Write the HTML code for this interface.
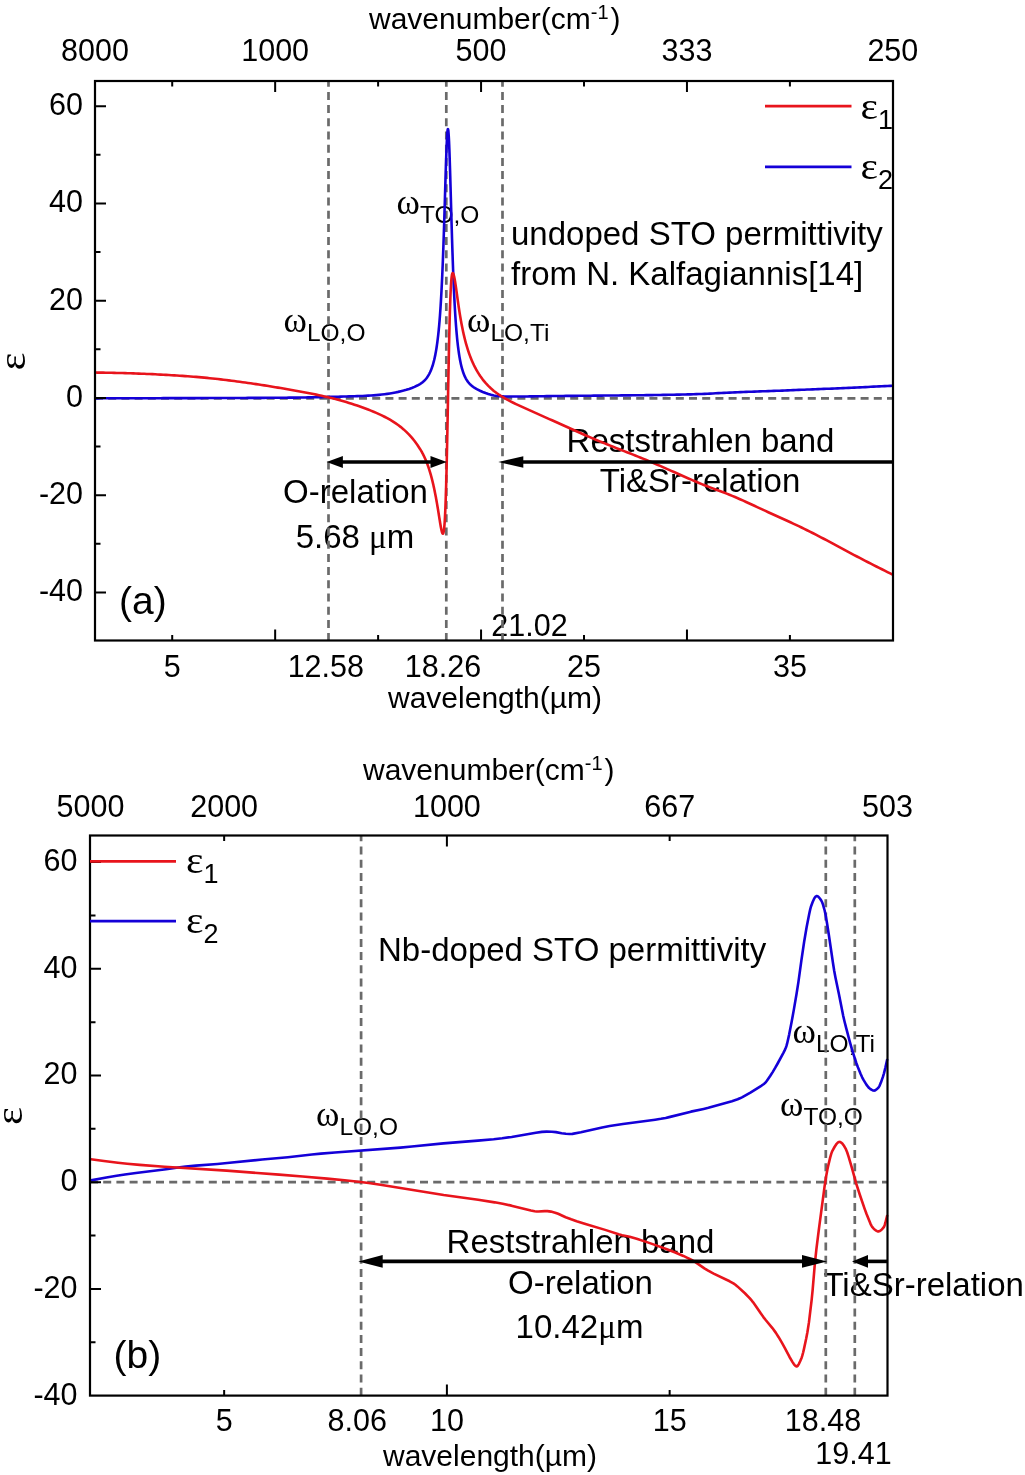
<!DOCTYPE html>
<html><head><meta charset="utf-8"><title>STO permittivity</title>
<style>html,body{margin:0;padding:0;background:#fff;}svg{display:block;}text{fill:#000;}</style>
</head><body>
<svg width="1025" height="1475" viewBox="0 0 1025 1475">
<rect width="1025" height="1475" fill="#fff"/>
<text x="95" y="61.2" font-size="30.5" text-anchor="middle" font-family="'Liberation Sans', sans-serif" >8000</text>
<text x="275.16" y="61.2" font-size="30.5" text-anchor="middle" font-family="'Liberation Sans', sans-serif" >1000</text>
<text x="481.06" y="61.2" font-size="30.5" text-anchor="middle" font-family="'Liberation Sans', sans-serif" >500</text>
<text x="686.96" y="61.2" font-size="30.5" text-anchor="middle" font-family="'Liberation Sans', sans-serif" >333</text>
<text x="892.86" y="61.2" font-size="30.5" text-anchor="middle" font-family="'Liberation Sans', sans-serif" >250</text>
<text x="83" y="115.08" font-size="30.5" text-anchor="end" font-family="'Liberation Sans', sans-serif" >60</text>
<text x="83" y="212.32" font-size="30.5" text-anchor="end" font-family="'Liberation Sans', sans-serif" >40</text>
<text x="83" y="309.56" font-size="30.5" text-anchor="end" font-family="'Liberation Sans', sans-serif" >20</text>
<text x="83" y="406.8" font-size="30.5" text-anchor="end" font-family="'Liberation Sans', sans-serif" >0</text>
<text x="83" y="504.04" font-size="30.5" text-anchor="end" font-family="'Liberation Sans', sans-serif" >-20</text>
<text x="83" y="601.28" font-size="30.5" text-anchor="end" font-family="'Liberation Sans', sans-serif" >-40</text>
<text x="172.21" y="677.3" font-size="30.5" text-anchor="middle" font-family="'Liberation Sans', sans-serif" >5</text>
<text x="325.8" y="677.3" font-size="30.5" text-anchor="middle" font-family="'Liberation Sans', sans-serif" >12.58</text>
<text x="443" y="677.3" font-size="30.5" text-anchor="middle" font-family="'Liberation Sans', sans-serif" >18.26</text>
<text x="584.01" y="677.3" font-size="30.5" text-anchor="middle" font-family="'Liberation Sans', sans-serif" >25</text>
<text x="789.91" y="677.3" font-size="30.5" text-anchor="middle" font-family="'Liberation Sans', sans-serif" >35</text>
<text x="529.5" y="635.8" font-size="30.5" text-anchor="middle" font-family="'Liberation Sans', sans-serif" >21.02</text>
<text x="388" y="708.3" font-size="30" text-anchor="start" font-family="'Liberation Sans', sans-serif" >wavelength(µm)</text>
<text x="369" y="28.9" font-size="30" text-anchor="start" font-family="'Liberation Sans', sans-serif" >wavenumber(cm<tspan font-size="20" dy="-9.5">-1</tspan><tspan dy="9.5" dx="2">)</tspan></text>
<text x="0" y="0" font-size="37" font-family="'Liberation Serif', serif" transform="translate(24.5,370.5) rotate(-90) scale(1.15,1)">ε</text>
<text x="119" y="613.8" font-size="39" text-anchor="start" font-family="'Liberation Sans', sans-serif" >(a)</text>
<text x="511" y="245" font-size="33" text-anchor="start" font-family="'Liberation Sans', sans-serif" >undoped STO permittivity</text>
<text x="511" y="284.5" font-size="33" text-anchor="start" font-family="'Liberation Sans', sans-serif" >from N. Kalfagiannis[14]</text>
<text x="355.5" y="503" font-size="33" text-anchor="middle" font-family="'Liberation Sans', sans-serif" >O-relation</text>
<text x="355" y="547.6" font-size="33" text-anchor="middle" font-family="'Liberation Sans', sans-serif" >5.68 <tspan font-family="'Liberation Serif', serif">μ</tspan>m</text>
<text x="700.5" y="452" font-size="33" text-anchor="middle" font-family="'Liberation Sans', sans-serif" >Reststrahlen band</text>
<text x="700" y="491.5" font-size="33" text-anchor="middle" font-family="'Liberation Sans', sans-serif" >Ti&amp;Sr-relation</text>
<text x="396.5" y="214.2" font-size="35.5" font-family="'Liberation Serif', serif">ω</text>
<text x="419.93" y="223.2" font-size="24.5" text-anchor="start" font-family="'Liberation Sans', sans-serif" >TO,O</text>
<text x="283.5" y="332" font-size="35.5" font-family="'Liberation Serif', serif">ω</text>
<text x="306.93" y="341" font-size="24.5" text-anchor="start" font-family="'Liberation Sans', sans-serif" >LO,O</text>
<text x="467" y="331.5" font-size="35.5" font-family="'Liberation Serif', serif">ω</text>
<text x="490.43" y="340.5" font-size="24.5" text-anchor="start" font-family="'Liberation Sans', sans-serif" >LO,Ti</text>
<g stroke="#6a6a6a" stroke-width="2.7" stroke-dasharray="8 5.2" fill="none">
<path d="M328.5,81V640.5" stroke-dashoffset="2.3"/>
<path d="M446.3,81V640.5" stroke-dashoffset="2.3"/>
<path d="M502.5,81V640.5" stroke-dashoffset="2.3"/>
<path d="M95,398.3H893"/>
</g>
<path d="M95,398.34 L97.73,398.33 L100.46,398.32 L103.19,398.3 L105.92,398.29 L108.66,398.29 L111.39,398.28 L114.12,398.27 L116.85,398.27 L119.58,398.26 L122.31,398.25 L125.04,398.25 L127.77,398.24 L130.5,398.24 L133.24,398.23 L135.97,398.23 L138.7,398.22 L141.43,398.22 L144.16,398.21 L146.89,398.21 L149.62,398.2 L152.35,398.2 L155.08,398.19 L157.82,398.19 L160.55,398.18 L163.28,398.17 L166.01,398.17 L168.74,398.16 L171.47,398.16 L174.2,398.15 L176.93,398.14 L179.66,398.14 L182.39,398.13 L185.13,398.12 L187.86,398.12 L190.59,398.11 L193.32,398.1 L196.05,398.09 L198.78,398.09 L201.51,398.08 L204.24,398.07 L206.97,398.06 L209.71,398.05 L212.44,398.05 L215.17,398.04 L217.9,398.03 L220.63,398.02 L223.36,398.01 L226.09,398 L228.82,397.99 L231.55,397.98 L234.29,397.97 L237.02,397.96 L239.75,397.95 L242.48,397.94 L245.21,397.93 L247.94,397.92 L250.67,397.9 L253.4,397.89 L256.13,397.88 L258.87,397.87 L261.6,397.85 L264.33,397.84 L267.06,397.82 L269.79,397.81 L272.52,397.79 L275.25,397.78 L277.98,397.76 L280.71,397.74 L283.45,397.72 L286.18,397.7 L288.91,397.67 L291.64,397.65 L294.37,397.62 L297.1,397.58 L299.83,397.55 L302.56,397.51 L305.29,397.46 L308.03,397.41 L310.76,397.36 L313.49,397.31 L316.22,397.25 L318.95,397.19 L321.68,397.12 L324.41,397.06 L327.14,396.99 L329.87,396.92 L332.61,396.85 L335.34,396.78 L338.07,396.7 L340.8,396.63 L343.53,396.55 L346.26,396.47 L348.99,396.39 L351.72,396.31 L354.45,396.22 L357.18,396.13 L359.92,396.03 L362.65,395.93 L365.38,395.81 L368.11,395.67 L370.84,395.51 L373.57,395.33 L376.3,395.11 L379.03,394.86 L381.76,394.57 L384.5,394.24 L387.23,393.86 L389.96,393.44 L392.69,392.97 L395.42,392.44 L398.15,391.87 L400.88,391.23 L403.61,390.54 L406.34,389.77 L409.08,388.91 L411.81,387.95 L414.54,386.84 L417.27,385.55 L420,384.03 L420.15,383.94 L420.3,383.84 L420.45,383.75 L420.6,383.65 L420.75,383.55 L420.9,383.45 L421.05,383.35 L421.2,383.24 L421.35,383.14 L421.5,383.03 L421.65,382.93 L421.8,382.82 L421.95,382.7 L422.11,382.59 L422.26,382.48 L422.41,382.36 L422.56,382.24 L422.71,382.12 L422.86,382 L423.01,381.87 L423.16,381.74 L423.31,381.61 L423.46,381.48 L423.61,381.35 L423.76,381.21 L423.91,381.07 L424.06,380.93 L424.21,380.79 L424.36,380.64 L424.51,380.49 L424.66,380.34 L424.81,380.18 L424.96,380.02 L425.11,379.86 L425.26,379.7 L425.41,379.53 L425.56,379.36 L425.71,379.18 L425.86,379.01 L426.02,378.82 L426.17,378.64 L426.32,378.45 L426.47,378.26 L426.62,378.06 L426.77,377.86 L426.92,377.66 L427.07,377.45 L427.22,377.23 L427.37,377.02 L427.52,376.8 L427.67,376.57 L427.82,376.34 L427.97,376.1 L428.12,375.86 L428.27,375.61 L428.42,375.36 L428.57,375.11 L428.72,374.85 L428.87,374.58 L429.02,374.3 L429.17,374.03 L429.32,373.74 L429.47,373.45 L429.62,373.15 L429.77,372.85 L429.92,372.54 L430.08,372.22 L430.23,371.89 L430.38,371.56 L430.53,371.22 L430.68,370.87 L430.83,370.52 L430.98,370.16 L431.13,369.78 L431.28,369.4 L431.43,369.02 L431.58,368.62 L431.73,368.21 L431.88,367.79 L432.03,367.36 L432.18,366.93 L432.33,366.48 L432.48,366.02 L432.63,365.55 L432.78,365.07 L432.93,364.57 L433.08,364.06 L433.23,363.54 L433.38,363.01 L433.53,362.46 L433.68,361.9 L433.83,361.32 L433.98,360.73 L434.14,360.13 L434.29,359.5 L434.44,358.86 L434.59,358.2 L434.74,357.53 L434.89,356.83 L435.04,356.12 L435.19,355.38 L435.34,354.63 L435.49,353.85 L435.64,353.05 L435.79,352.23 L435.94,351.38 L436.09,350.51 L436.24,349.61 L436.39,348.68 L436.54,347.73 L436.69,346.75 L436.84,345.74 L436.99,344.69 L437.14,343.62 L437.29,342.51 L437.44,341.36 L437.59,340.18 L437.74,338.96 L437.89,337.7 L438.05,336.41 L438.2,335.06 L438.35,333.68 L438.5,332.25 L438.65,330.77 L438.8,329.24 L438.95,327.66 L439.1,326.03 L439.25,324.34 L439.4,322.6 L439.55,320.79 L439.7,318.92 L439.85,316.99 L440,314.99 L440.15,312.92 L440.3,310.78 L440.45,308.57 L440.6,306.27 L440.75,303.9 L440.9,301.44 L441.05,298.9 L441.2,296.27 L441.35,293.55 L441.5,290.73 L441.65,287.81 L441.8,284.8 L441.95,281.68 L442.11,278.46 L442.26,275.13 L442.41,271.69 L442.56,268.14 L442.71,264.48 L442.86,260.71 L443.01,256.82 L443.16,252.81 L443.31,248.69 L443.46,244.46 L443.61,240.12 L443.76,235.68 L443.91,231.13 L444.06,226.48 L444.21,221.74 L444.36,216.92 L444.51,212.03 L444.66,207.08 L444.81,202.08 L444.96,197.05 L445.11,192.01 L445.26,186.97 L445.41,181.97 L445.56,177.01 L445.71,172.13 L445.86,167.36 L446.02,162.73 L446.17,158.26 L446.32,153.99 L446.47,149.95 L446.62,146.18 L446.77,142.71 L446.92,139.57 L447.07,136.79 L447.22,134.39 L447.37,132.42 L447.52,130.88 L447.67,129.8 L447.82,129.18 L447.97,129.05 L448.12,129.39 L448.27,130.21 L448.42,131.51 L448.57,133.27 L448.72,135.48 L448.87,138.1 L449.02,141.13 L449.17,144.53 L449.32,148.27 L449.47,152.32 L449.62,156.64 L449.77,161.21 L449.92,165.98 L450.08,170.93 L450.23,176.01 L450.38,181.2 L450.53,186.47 L450.68,191.79 L450.83,197.14 L450.98,202.49 L451.13,207.82 L451.28,213.1 L451.43,218.34 L451.58,223.5 L451.73,228.58 L451.88,233.56 L452.03,238.45 L452.18,243.22 L452.33,247.88 L452.48,252.42 L452.63,256.83 L452.78,261.12 L452.93,265.29 L453.08,269.32 L453.23,273.24 L453.38,277.02 L453.53,280.68 L453.68,284.22 L453.83,287.64 L453.98,290.94 L454.14,294.13 L454.29,297.2 L454.44,300.17 L454.59,303.03 L454.74,305.79 L454.89,308.45 L455.04,311.01 L455.19,313.49 L455.34,315.87 L455.49,318.17 L455.64,320.38 L455.79,322.51 L455.94,324.57 L456.09,326.56 L456.24,328.47 L456.39,330.31 L456.54,332.09 L456.69,333.81 L456.84,335.46 L456.99,337.06 L457.14,338.6 L457.29,340.09 L457.44,341.53 L457.59,342.91 L457.74,344.25 L457.89,345.55 L458.05,346.8 L458.2,348.01 L458.35,349.17 L458.5,350.3 L458.65,351.39 L458.8,352.45 L458.95,353.47 L459.1,354.46 L459.25,355.42 L459.4,356.34 L459.55,357.24 L459.7,358.11 L459.85,358.95 L460,359.76 L460.15,360.55 L460.3,361.32 L460.45,362.06 L460.6,362.78 L460.75,363.48 L460.9,364.16 L461.05,364.82 L461.2,365.46 L461.35,366.08 L461.5,366.68 L461.65,367.26 L461.8,367.83 L461.95,368.38 L462.11,368.92 L462.26,369.44 L462.41,369.95 L462.56,370.44 L462.71,370.92 L462.86,371.38 L463.01,371.84 L463.16,372.28 L463.31,372.71 L463.46,373.13 L463.61,373.54 L463.76,373.93 L463.91,374.32 L464.06,374.7 L464.21,375.06 L464.36,375.42 L464.51,375.77 L464.66,376.11 L464.81,376.44 L464.96,376.76 L465.11,377.08 L465.26,377.39 L465.41,377.69 L465.56,377.98 L465.71,378.26 L465.86,378.54 L466.02,378.82 L466.17,379.08 L466.32,379.34 L466.47,379.59 L466.62,379.84 L466.77,380.08 L466.92,380.32 L467.07,380.55 L467.22,380.78 L467.37,381 L467.52,381.22 L467.67,381.43 L467.82,381.63 L467.97,381.84 L468.12,382.03 L468.27,382.23 L468.42,382.42 L468.57,382.6 L468.72,382.78 L468.87,382.96 L469.02,383.13 L469.17,383.3 L469.32,383.47 L469.47,383.63 L469.62,383.79 L469.77,383.95 L469.92,384.1 L470.08,384.25 L470.23,384.4 L470.38,384.55 L470.53,384.69 L470.68,384.83 L470.83,384.97 L470.98,385.1 L471.13,385.24 L471.28,385.37 L471.43,385.5 L471.58,385.62 L471.73,385.75 L471.88,385.87 L472.03,385.99 L472.18,386.11 L472.33,386.23 L472.48,386.34 L472.63,386.46 L472.78,386.57 L472.93,386.68 L473.08,386.79 L473.23,386.9 L473.38,387 L473.53,387.11 L473.68,387.21 L473.83,387.31 L473.98,387.41 L474.14,387.51 L474.29,387.61 L474.44,387.71 L474.59,387.81 L474.74,387.9 L474.89,388 L475.04,388.09 L475.19,388.18 L475.34,388.27 L475.49,388.36 L475.64,388.45 L475.79,388.54 L475.94,388.63 L476.09,388.71 L476.24,388.8 L476.39,388.88 L476.54,388.97 L476.69,389.05 L476.84,389.13 L476.99,389.22 L477.14,389.3 L477.29,389.38 L477.44,389.46 L477.59,389.54 L477.74,389.62 L477.89,389.69 L478.05,389.77 L478.2,389.85 L478.35,389.93 L478.5,390 L478.65,390.08 L478.8,390.15 L478.95,390.22 L479.1,390.3 L479.25,390.37 L479.4,390.44 L479.55,390.52 L479.7,390.59 L479.85,390.66 L480,390.73 L482.77,391.96 L485.54,393.06 L488.32,394.04 L491.09,394.86 L493.86,395.51 L496.63,395.97 L499.4,396.23 L502.17,396.35 L504.95,396.43 L507.72,396.48 L510.49,396.51 L513.26,396.52 L516.03,396.52 L518.81,396.51 L521.58,396.49 L524.35,396.47 L527.12,396.43 L529.89,396.4 L532.66,396.36 L535.44,396.31 L538.21,396.27 L540.98,396.23 L543.75,396.18 L546.52,396.14 L549.3,396.1 L552.07,396.06 L554.84,396.03 L557.61,396 L560.38,395.97 L563.15,395.94 L565.93,395.92 L568.7,395.89 L571.47,395.87 L574.24,395.85 L577.01,395.82 L579.79,395.8 L582.56,395.77 L585.33,395.75 L588.1,395.72 L590.87,395.7 L593.64,395.67 L596.42,395.64 L599.19,395.62 L601.96,395.59 L604.73,395.57 L607.5,395.54 L610.28,395.51 L613.05,395.49 L615.82,395.46 L618.59,395.43 L621.36,395.41 L624.13,395.38 L626.91,395.35 L629.68,395.33 L632.45,395.3 L635.22,395.27 L637.99,395.24 L640.77,395.21 L643.54,395.18 L646.31,395.15 L649.08,395.11 L651.85,395.08 L654.62,395.04 L657.4,395 L660.17,394.96 L662.94,394.92 L665.71,394.87 L668.48,394.82 L671.26,394.77 L674.03,394.72 L676.8,394.67 L679.57,394.61 L682.34,394.55 L685.11,394.48 L687.89,394.41 L690.66,394.34 L693.43,394.26 L696.2,394.17 L698.97,394.07 L701.74,393.96 L704.52,393.84 L707.29,393.71 L710.06,393.58 L712.83,393.44 L715.6,393.3 L718.38,393.15 L721.15,393.01 L723.92,392.87 L726.69,392.73 L729.46,392.6 L732.23,392.47 L735.01,392.35 L737.78,392.23 L740.55,392.12 L743.32,392.01 L746.09,391.91 L748.87,391.81 L751.64,391.71 L754.41,391.62 L757.18,391.52 L759.95,391.42 L762.72,391.32 L765.5,391.22 L768.27,391.12 L771.04,391.02 L773.81,390.91 L776.58,390.8 L779.36,390.7 L782.13,390.59 L784.9,390.48 L787.67,390.36 L790.44,390.25 L793.21,390.14 L795.99,390.02 L798.76,389.91 L801.53,389.8 L804.3,389.68 L807.07,389.57 L809.85,389.46 L812.62,389.34 L815.39,389.23 L818.16,389.12 L820.93,389.01 L823.7,388.9 L826.48,388.8 L829.25,388.69 L832.02,388.58 L834.79,388.47 L837.56,388.36 L840.34,388.24 L843.11,388.13 L845.88,388.01 L848.65,387.89 L851.42,387.77 L854.19,387.64 L856.97,387.51 L859.74,387.37 L862.51,387.24 L865.28,387.1 L868.05,386.95 L870.83,386.81 L873.6,386.67 L876.37,386.52 L879.14,386.38 L881.91,386.24 L884.68,386.1 L887.46,385.97 L890.23,385.84 L893,385.72" fill="none" stroke="#1400d8" stroke-width="2.6" stroke-linejoin="round"/>
<path d="M95,372.55 L97.73,372.58 L100.46,372.62 L103.19,372.67 L105.92,372.71 L108.66,372.76 L111.39,372.81 L114.12,372.87 L116.85,372.93 L119.58,373 L122.31,373.07 L125.04,373.14 L127.77,373.22 L130.5,373.31 L133.24,373.4 L135.97,373.49 L138.7,373.6 L141.43,373.7 L144.16,373.81 L146.89,373.93 L149.62,374.05 L152.35,374.17 L155.08,374.3 L157.82,374.44 L160.55,374.58 L163.28,374.72 L166.01,374.87 L168.74,375.03 L171.47,375.19 L174.2,375.36 L176.93,375.53 L179.66,375.71 L182.39,375.89 L185.13,376.08 L187.86,376.28 L190.59,376.48 L193.32,376.69 L196.05,376.91 L198.78,377.14 L201.51,377.38 L204.24,377.63 L206.97,377.9 L209.71,378.17 L212.44,378.45 L215.17,378.75 L217.9,379.05 L220.63,379.37 L223.36,379.69 L226.09,380.03 L228.82,380.37 L231.55,380.72 L234.29,381.07 L237.02,381.43 L239.75,381.8 L242.48,382.18 L245.21,382.56 L247.94,382.94 L250.67,383.33 L253.4,383.73 L256.13,384.14 L258.87,384.55 L261.6,384.97 L264.33,385.39 L267.06,385.82 L269.79,386.26 L272.52,386.71 L275.25,387.16 L277.98,387.62 L280.71,388.09 L283.45,388.56 L286.18,389.03 L288.91,389.51 L291.64,390 L294.37,390.49 L297.1,390.98 L299.83,391.48 L302.56,391.98 L305.29,392.49 L308.03,393.01 L310.76,393.54 L313.49,394.08 L316.22,394.63 L318.95,395.2 L321.68,395.79 L324.41,396.4 L327.14,397.02 L329.87,397.67 L332.61,398.34 L335.34,399.04 L338.07,399.76 L340.8,400.5 L343.53,401.28 L346.26,402.08 L348.99,402.91 L351.72,403.76 L354.45,404.65 L357.18,405.57 L359.92,406.51 L362.65,407.49 L365.38,408.5 L368.11,409.54 L370.84,410.61 L373.57,411.73 L376.3,412.89 L379.03,414.11 L381.76,415.39 L384.5,416.74 L387.23,418.17 L389.96,419.7 L392.69,421.35 L395.42,423.12 L398.15,425.03 L400.88,427.12 L403.61,429.38 L406.34,431.87 L409.08,434.6 L411.81,437.63 L414.54,441.01 L417.27,444.77 L420,448.92 L420.15,449.17 L420.3,449.41 L420.45,449.66 L420.6,449.91 L420.75,450.16 L420.9,450.42 L421.05,450.67 L421.2,450.93 L421.35,451.19 L421.5,451.46 L421.65,451.72 L421.8,451.99 L421.95,452.26 L422.11,452.53 L422.26,452.81 L422.41,453.08 L422.56,453.37 L422.71,453.65 L422.86,453.93 L423.01,454.22 L423.16,454.52 L423.31,454.81 L423.46,455.11 L423.61,455.41 L423.76,455.71 L423.91,456.02 L424.06,456.33 L424.21,456.64 L424.36,456.96 L424.51,457.28 L424.66,457.61 L424.81,457.94 L424.96,458.27 L425.11,458.6 L425.26,458.94 L425.41,459.29 L425.56,459.63 L425.71,459.99 L425.86,460.34 L426.02,460.7 L426.17,461.07 L426.32,461.43 L426.47,461.81 L426.62,462.18 L426.77,462.57 L426.92,462.95 L427.07,463.34 L427.22,463.74 L427.37,464.14 L427.52,464.55 L427.67,464.96 L427.82,465.38 L427.97,465.8 L428.12,466.22 L428.27,466.66 L428.42,467.09 L428.57,467.54 L428.72,467.99 L428.87,468.44 L429.02,468.9 L429.17,469.37 L429.32,469.84 L429.47,470.32 L429.62,470.8 L429.77,471.29 L429.92,471.79 L430.08,472.29 L430.23,472.8 L430.38,473.32 L430.53,473.84 L430.68,474.37 L430.83,474.9 L430.98,475.45 L431.13,475.99 L431.28,476.55 L431.43,477.11 L431.58,477.68 L431.73,478.25 L431.88,478.83 L432.03,479.42 L432.18,480.02 L432.33,480.62 L432.48,481.24 L432.63,481.86 L432.78,482.48 L432.93,483.12 L433.08,483.76 L433.23,484.41 L433.38,485.07 L433.53,485.74 L433.68,486.41 L433.83,487.1 L433.98,487.79 L434.14,488.49 L434.29,489.2 L434.44,489.92 L434.59,490.64 L434.74,491.38 L434.89,492.13 L435.04,492.88 L435.19,493.64 L435.34,494.41 L435.49,495.2 L435.64,495.99 L435.79,496.79 L435.94,497.59 L436.09,498.41 L436.24,499.24 L436.39,500.07 L436.54,500.92 L436.69,501.77 L436.84,502.63 L436.99,503.5 L437.14,504.38 L437.29,505.27 L437.44,506.16 L437.59,507.07 L437.74,507.97 L437.89,508.89 L438.05,509.81 L438.2,510.74 L438.35,511.67 L438.5,512.61 L438.65,513.55 L438.8,514.49 L438.95,515.44 L439.1,516.38 L439.25,517.33 L439.4,518.27 L439.55,519.21 L439.7,520.15 L439.85,521.08 L440,522.01 L440.15,522.92 L440.3,523.82 L440.45,524.7 L440.6,525.57 L440.75,526.42 L440.9,527.24 L441.05,528.04 L441.2,528.81 L441.35,529.54 L441.5,530.23 L441.65,530.87 L441.8,531.47 L441.95,532.01 L442.11,532.49 L442.26,532.9 L442.41,533.23 L442.56,533.47 L442.71,533.63 L442.86,533.68 L443.01,533.62 L443.16,533.44 L443.31,533.13 L443.46,532.67 L443.61,532.06 L443.76,531.27 L443.91,530.31 L444.06,529.14 L444.21,527.77 L444.36,526.17 L444.51,524.34 L444.66,522.25 L444.81,519.89 L444.96,517.25 L445.11,514.32 L445.26,511.08 L445.41,507.52 L445.56,503.63 L445.71,499.41 L445.86,494.85 L446.02,489.94 L446.17,484.69 L446.32,479.11 L446.47,473.19 L446.62,466.95 L446.77,460.41 L446.92,453.58 L447.07,446.49 L447.22,439.16 L447.37,431.64 L447.52,423.95 L447.67,416.13 L447.82,408.22 L447.97,400.27 L448.12,392.32 L448.27,384.41 L448.42,376.58 L448.57,368.89 L448.72,361.36 L448.87,354.04 L449.02,346.95 L449.17,340.14 L449.32,333.63 L449.47,327.44 L449.62,321.58 L449.77,316.08 L449.92,310.95 L450.08,306.18 L450.23,301.78 L450.38,297.74 L450.53,294.07 L450.68,290.76 L450.83,287.79 L450.98,285.15 L451.13,282.83 L451.28,280.81 L451.43,279.07 L451.58,277.59 L451.73,276.36 L451.88,275.36 L452.03,274.56 L452.18,273.95 L452.33,273.51 L452.48,273.23 L452.63,273.08 L452.78,273.06 L452.93,273.15 L453.08,273.33 L453.23,273.6 L453.38,273.95 L453.53,274.36 L453.68,274.84 L453.83,275.38 L453.98,275.97 L454.14,276.61 L454.29,277.3 L454.44,278.03 L454.59,278.8 L454.74,279.61 L454.89,280.45 L455.04,281.33 L455.19,282.24 L455.34,283.18 L455.49,284.15 L455.64,285.14 L455.79,286.16 L455.94,287.19 L456.09,288.24 L456.24,289.3 L456.39,290.37 L456.54,291.46 L456.69,292.54 L456.84,293.64 L456.99,294.73 L457.14,295.82 L457.29,296.91 L457.44,298 L457.59,299.08 L457.74,300.16 L457.89,301.23 L458.05,302.29 L458.2,303.34 L458.35,304.38 L458.5,305.42 L458.65,306.44 L458.8,307.45 L458.95,308.45 L459.1,309.44 L459.25,310.42 L459.4,311.39 L459.55,312.34 L459.7,313.29 L459.85,314.22 L460,315.14 L460.15,316.05 L460.3,316.95 L460.45,317.83 L460.6,318.71 L460.75,319.57 L460.9,320.42 L461.05,321.26 L461.2,322.09 L461.35,322.91 L461.5,323.72 L461.65,324.52 L461.8,325.3 L461.95,326.08 L462.11,326.84 L462.26,327.6 L462.41,328.34 L462.56,329.08 L462.71,329.81 L462.86,330.52 L463.01,331.23 L463.16,331.93 L463.31,332.61 L463.46,333.29 L463.61,333.96 L463.76,334.62 L463.91,335.28 L464.06,335.92 L464.21,336.56 L464.36,337.18 L464.51,337.8 L464.66,338.42 L464.81,339.02 L464.96,339.62 L465.11,340.2 L465.26,340.79 L465.41,341.36 L465.56,341.93 L465.71,342.49 L465.86,343.04 L466.02,343.59 L466.17,344.13 L466.32,344.66 L466.47,345.18 L466.62,345.7 L466.77,346.22 L466.92,346.73 L467.07,347.23 L467.22,347.72 L467.37,348.21 L467.52,348.7 L467.67,349.17 L467.82,349.65 L467.97,350.11 L468.12,350.58 L468.27,351.03 L468.42,351.49 L468.57,351.93 L468.72,352.37 L468.87,352.81 L469.02,353.24 L469.17,353.67 L469.32,354.09 L469.47,354.51 L469.62,354.92 L469.77,355.33 L469.92,355.73 L470.08,356.13 L470.23,356.53 L470.38,356.92 L470.53,357.31 L470.68,357.69 L470.83,358.07 L470.98,358.45 L471.13,358.82 L471.28,359.19 L471.43,359.55 L471.58,359.92 L471.73,360.27 L471.88,360.63 L472.03,360.98 L472.18,361.32 L472.33,361.67 L472.48,362.01 L472.63,362.35 L472.78,362.68 L472.93,363.01 L473.08,363.34 L473.23,363.66 L473.38,363.99 L473.53,364.31 L473.68,364.62 L473.83,364.93 L473.98,365.24 L474.14,365.55 L474.29,365.86 L474.44,366.16 L474.59,366.46 L474.74,366.75 L474.89,367.05 L475.04,367.34 L475.19,367.63 L475.34,367.92 L475.49,368.2 L475.64,368.48 L475.79,368.76 L475.94,369.04 L476.09,369.31 L476.24,369.58 L476.39,369.85 L476.54,370.12 L476.69,370.39 L476.84,370.65 L476.99,370.91 L477.14,371.17 L477.29,371.43 L477.44,371.68 L477.59,371.94 L477.74,372.19 L477.89,372.44 L478.05,372.68 L478.2,372.93 L478.35,373.17 L478.5,373.41 L478.65,373.65 L478.8,373.89 L478.95,374.12 L479.1,374.36 L479.25,374.59 L479.4,374.82 L479.55,375.05 L479.7,375.28 L479.85,375.5 L480,375.73 L482.77,379.56 L485.54,382.94 L488.32,385.91 L491.09,388.55 L493.86,390.91 L496.63,393.02 L499.4,394.95 L502.17,396.73 L504.95,398.37 L507.72,399.9 L510.49,401.35 L513.26,402.73 L516.03,404.07 L518.81,405.37 L521.58,406.65 L524.35,407.92 L527.12,409.18 L529.89,410.44 L532.66,411.69 L535.44,412.93 L538.21,414.16 L540.98,415.39 L543.75,416.62 L546.52,417.84 L549.3,419.07 L552.07,420.29 L554.84,421.53 L557.61,422.76 L560.38,424.01 L563.15,425.25 L565.93,426.5 L568.7,427.75 L571.47,429 L574.24,430.25 L577.01,431.49 L579.79,432.73 L582.56,433.96 L585.33,435.19 L588.1,436.4 L590.87,437.6 L593.64,438.79 L596.42,439.97 L599.19,441.13 L601.96,442.28 L604.73,443.42 L607.5,444.54 L610.28,445.66 L613.05,446.77 L615.82,447.87 L618.59,448.96 L621.36,450.05 L624.13,451.14 L626.91,452.22 L629.68,453.3 L632.45,454.39 L635.22,455.49 L637.99,456.6 L640.77,457.71 L643.54,458.85 L646.31,459.99 L649.08,461.15 L651.85,462.32 L654.62,463.51 L657.4,464.71 L660.17,465.92 L662.94,467.13 L665.71,468.36 L668.48,469.59 L671.26,470.82 L674.03,472.06 L676.8,473.3 L679.57,474.54 L682.34,475.77 L685.11,477 L687.89,478.22 L690.66,479.43 L693.43,480.62 L696.2,481.8 L698.97,482.95 L701.74,484.09 L704.52,485.2 L707.29,486.28 L710.06,487.35 L712.83,488.4 L715.6,489.44 L718.38,490.47 L721.15,491.51 L723.92,492.56 L726.69,493.63 L729.46,494.73 L732.23,495.86 L735.01,497.02 L737.78,498.21 L740.55,499.44 L743.32,500.68 L746.09,501.95 L748.87,503.23 L751.64,504.51 L754.41,505.8 L757.18,507.09 L759.95,508.38 L762.72,509.66 L765.5,510.94 L768.27,512.22 L771.04,513.49 L773.81,514.75 L776.58,516.01 L779.36,517.27 L782.13,518.52 L784.9,519.78 L787.67,521.04 L790.44,522.3 L793.21,523.58 L795.99,524.87 L798.76,526.17 L801.53,527.5 L804.3,528.84 L807.07,530.21 L809.85,531.6 L812.62,533 L815.39,534.43 L818.16,535.86 L820.93,537.31 L823.7,538.76 L826.48,540.22 L829.25,541.69 L832.02,543.16 L834.79,544.64 L837.56,546.13 L840.34,547.62 L843.11,549.11 L845.88,550.6 L848.65,552.09 L851.42,553.57 L854.19,555.03 L856.97,556.49 L859.74,557.94 L862.51,559.37 L865.28,560.8 L868.05,562.22 L870.83,563.64 L873.6,565.05 L876.37,566.47 L879.14,567.88 L881.91,569.28 L884.68,570.68 L887.46,572.07 L890.23,573.45 L893,574.82" fill="none" stroke="#e8141c" stroke-width="2.6" stroke-linejoin="round"/>
<rect x="95" y="81" width="798" height="559.5" fill="none" stroke="#000" stroke-width="2.2"/>
<path d="M275.16,640.5V629.5M275.16,81V92M481.06,640.5V629.5M481.06,81V92M686.96,640.5V629.5M686.96,81V92M172.21,640.5V635M172.21,81V86.5M378.11,640.5V635M378.11,81V86.5M584.01,640.5V635M584.01,81V86.5M789.91,640.5V635M789.91,81V86.5M95,592.38H106M95,495.14H106M95,397.9H106M95,300.66H106M95,203.42H106M95,106.18H106M95,543.76H100.5M95,446.52H100.5M95,349.28H100.5M95,252.04H100.5M95,154.8H100.5" stroke="#000" stroke-width="2" fill="none"/>
<path d="M335,462H440" stroke="#000" stroke-width="3.6"/>
<path d="M326.6,462 L342.9,455.9 L342.9,468.1 Z" fill="#000"/>
<path d="M446.8,462 L430.5,455.9 L430.5,468.1 Z" fill="#000"/>
<path d="M515,462H893" stroke="#000" stroke-width="3.6"/>
<path d="M498.3,462 L523.3,456.2 L523.3,467.8 Z" fill="#000"/>
<path d="M765,106.2H851.5" stroke="#e8141c" stroke-width="2.8"/>
<path d="M765,166.8H851.5" stroke="#1400d8" stroke-width="2.8"/>
<text x="0" y="0" font-size="37" font-family="'Liberation Serif', serif" transform="translate(860.5,118.5) scale(1.12,1)">ε</text>
<text x="877.9" y="128.5" font-size="27" text-anchor="start" font-family="'Liberation Sans', sans-serif" >1</text>
<text x="0" y="0" font-size="37" font-family="'Liberation Serif', serif" transform="translate(860.5,179) scale(1.12,1)">ε</text>
<text x="877.9" y="189" font-size="27" text-anchor="start" font-family="'Liberation Sans', sans-serif" >2</text>
<text x="90.5" y="816.5" font-size="30.5" text-anchor="middle" font-family="'Liberation Sans', sans-serif" >5000</text>
<text x="224.15" y="816.5" font-size="30.5" text-anchor="middle" font-family="'Liberation Sans', sans-serif" >2000</text>
<text x="446.9" y="816.5" font-size="30.5" text-anchor="middle" font-family="'Liberation Sans', sans-serif" >1000</text>
<text x="669.65" y="816.5" font-size="30.5" text-anchor="middle" font-family="'Liberation Sans', sans-serif" >667</text>
<text x="887.5" y="816.5" font-size="30.5" text-anchor="middle" font-family="'Liberation Sans', sans-serif" >503</text>
<text x="77.5" y="871" font-size="30.5" text-anchor="end" font-family="'Liberation Sans', sans-serif" >60</text>
<text x="77.5" y="977.7" font-size="30.5" text-anchor="end" font-family="'Liberation Sans', sans-serif" >40</text>
<text x="77.5" y="1084.4" font-size="30.5" text-anchor="end" font-family="'Liberation Sans', sans-serif" >20</text>
<text x="77.5" y="1191.1" font-size="30.5" text-anchor="end" font-family="'Liberation Sans', sans-serif" >0</text>
<text x="77.5" y="1297.8" font-size="30.5" text-anchor="end" font-family="'Liberation Sans', sans-serif" >-20</text>
<text x="77.5" y="1404.5" font-size="30.5" text-anchor="end" font-family="'Liberation Sans', sans-serif" >-40</text>
<text x="224.15" y="1431.2" font-size="30.5" text-anchor="middle" font-family="'Liberation Sans', sans-serif" >5</text>
<text x="357.3" y="1431.2" font-size="30.5" text-anchor="middle" font-family="'Liberation Sans', sans-serif" >8.06</text>
<text x="446.9" y="1431.2" font-size="30.5" text-anchor="middle" font-family="'Liberation Sans', sans-serif" >10</text>
<text x="669.65" y="1431.2" font-size="30.5" text-anchor="middle" font-family="'Liberation Sans', sans-serif" >15</text>
<text x="823" y="1431.2" font-size="30.5" text-anchor="middle" font-family="'Liberation Sans', sans-serif" >18.48</text>
<text x="853.5" y="1464.3" font-size="30.5" text-anchor="middle" font-family="'Liberation Sans', sans-serif" >19.41</text>
<text x="383" y="1465.5" font-size="30" text-anchor="start" font-family="'Liberation Sans', sans-serif" >wavelength(µm)</text>
<text x="363" y="779.6" font-size="30" text-anchor="start" font-family="'Liberation Sans', sans-serif" >wavenumber(cm<tspan font-size="20" dy="-9.5">-1</tspan><tspan dy="9.5" dx="2">)</tspan></text>
<text x="0" y="0" font-size="37" font-family="'Liberation Serif', serif" transform="translate(21.5,1125) rotate(-90) scale(1.15,1)">ε</text>
<text x="113.5" y="1367.8" font-size="39" text-anchor="start" font-family="'Liberation Sans', sans-serif" >(b)</text>
<text x="378" y="961" font-size="33" text-anchor="start" font-family="'Liberation Sans', sans-serif" >Nb-doped STO permittivity</text>
<text x="580.5" y="1253" font-size="33" text-anchor="middle" font-family="'Liberation Sans', sans-serif" >Reststrahlen band</text>
<text x="580.5" y="1294" font-size="33" text-anchor="middle" font-family="'Liberation Sans', sans-serif" >O-relation</text>
<text x="579.5" y="1338" font-size="33" text-anchor="middle" font-family="'Liberation Sans', sans-serif" >10.42<tspan font-family="'Liberation Serif', serif">μ</tspan>m</text>
<text x="823.4" y="1296.3" font-size="33" text-anchor="start" font-family="'Liberation Sans', sans-serif" >Ti&amp;Sr-relation</text>
<text x="316" y="1126.2" font-size="35.5" font-family="'Liberation Serif', serif">ω</text>
<text x="339.43" y="1135.2" font-size="24.5" text-anchor="start" font-family="'Liberation Sans', sans-serif" >LO,O</text>
<text x="792.5" y="1043" font-size="35.5" font-family="'Liberation Serif', serif">ω</text>
<text x="815.93" y="1052" font-size="24.5" text-anchor="start" font-family="'Liberation Sans', sans-serif" >LO,Ti</text>
<text x="780" y="1115.5" font-size="35.5" font-family="'Liberation Serif', serif">ω</text>
<text x="803.43" y="1124.5" font-size="24.5" text-anchor="start" font-family="'Liberation Sans', sans-serif" >TO,O</text>
<g stroke="#6a6a6a" stroke-width="2.7" stroke-dasharray="8 5.2" fill="none">
<path d="M361.1,835.5V1395.6" stroke-dashoffset="2.2"/>
<path d="M825.8,835.5V1395.6" stroke-dashoffset="2.2"/>
<path d="M854.8,835.5V1395.6" stroke-dashoffset="2.2"/>
<path d="M90,1182.2H887.5"/>
</g>
<path d="M90.9,1180.4 L106.4,1177.49 L116.65,1175.77 L124.9,1174.5 L135.9,1173.02 L166.15,1169.28 L179.9,1167.31 L185.65,1166.59 L195.9,1165.62 L217.4,1163.93 L227.15,1163.06 L262.15,1159.54 L287.9,1157.21 L311.9,1154.51 L320.9,1153.61 L334.9,1152.47 L400.4,1147.61 L411.9,1146.56 L443.4,1143.34 L477.9,1140.58 L493.65,1139.19 L502.15,1138.25 L511.65,1136.93 L535.9,1132.67 L541.9,1131.85 L546.65,1131.59 L551.9,1131.75 L555.9,1132.13 L561.65,1133.24 L565.9,1133.78 L569.4,1134.01 L572.4,1133.85 L580.9,1132.3 L602.15,1127.5 L609.65,1126.08 L622.9,1124.06 L655.15,1119.71 L660.9,1118.82 L665.65,1117.95 L669.15,1117.14 L690.9,1111.64 L703.65,1108.9 L708.4,1107.77 L731.9,1101.16 L737.65,1099.28 L739.9,1098.31 L742.4,1097.06 L750.4,1092.6 L761.65,1085.57 L763.9,1083.94 L765.4,1082.61 L766.9,1080.7 L770.15,1076 L772.65,1072.08 L775.15,1067.93 L777.65,1063.49 L783.4,1052.86 L784.65,1050.39 L785.9,1047.55 L786.4,1046.16 L787.15,1043.43 L789.15,1034.62 L791.65,1021.84 L793.9,1009.36 L796.65,993.2 L798.4,982.16 L801.4,960.4 L804.15,941.73 L806.65,927.02 L809.15,914.25 L810.15,909.61 L810.9,906.72 L812.65,901.99 L813.9,899.19 L814.9,897.46 L815.4,896.83 L815.9,896.38 L816.65,896.08 L817.15,896.11 L817.65,896.29 L818.65,897.03 L819.9,898.48 L821.4,900.7 L822.15,902.31 L822.9,904.37 L824.65,910.49 L825.65,915.17 L827.15,924.06 L828.9,935.23 L832.9,962.56 L834.15,970.45 L835.4,977.14 L838.9,993.9 L843.15,1015.62 L844.4,1021.02 L846.15,1027.94 L849.9,1042.06 L851.9,1049.14 L854.4,1057.24 L856.4,1063.25 L857.9,1067.3 L860.65,1074.03 L862.15,1077.31 L863.65,1080.15 L866.4,1084.6 L868.4,1087.25 L869.15,1088.02 L870.15,1088.82 L871.4,1089.67 L872.4,1090.18 L873.4,1090.51 L874.15,1090.6 L874.65,1090.54 L875.4,1090.23 L876.65,1089.31 L878.65,1087.29 L879.65,1085.58 L880.9,1082.59 L882.9,1076.91 L883.9,1073.58 L885.4,1067.59 L887.3,1059" fill="none" stroke="#1400d8" stroke-width="2.6" stroke-linejoin="round"/>
<path d="M90.9,1159.3 L103.9,1161.05 L117.9,1162.73 L127.15,1163.71 L139.65,1164.85 L164.4,1166.69 L226.65,1170.64 L279.15,1174.58 L302.65,1176.49 L327.15,1178.66 L344.65,1180.31 L358.4,1181.78 L368.65,1183.06 L380.4,1184.79 L443.65,1195.06 L478.15,1199.83 L494.65,1202.34 L502.65,1203.8 L511.4,1205.64 L530.9,1210.52 L534.65,1211.3 L536.65,1211.54 L538.4,1211.57 L544.65,1211.12 L547.4,1211.12 L550.9,1211.6 L555.15,1212.67 L558.15,1213.79 L565.65,1217.2 L571.15,1219.25 L576.65,1221.15 L584.65,1223.68 L605.15,1229.88 L618.65,1234.28 L622.15,1235.2 L629.65,1236.71 L636.65,1238.75 L646.9,1242.14 L653.4,1244.39 L666.9,1249.28 L674.65,1252.23 L683.4,1255.94 L687.4,1257.82 L691.15,1259.73 L695.4,1262.19 L704.4,1268.38 L708.15,1270.68 L713.65,1273.55 L729.65,1281.27 L733.4,1283.35 L735.4,1284.76 L737.4,1286.39 L744.9,1293.23 L749.4,1297.86 L751.65,1300.44 L753.15,1302.32 L755.4,1305.43 L760.9,1313.58 L763.4,1317.1 L765.9,1320.29 L772.4,1328.09 L775.9,1332.87 L778.65,1337.21 L782.15,1343.22 L784.9,1348.11 L789.4,1356.72 L792.4,1361.85 L793.65,1363.79 L794.65,1365.08 L795.65,1366.02 L796.4,1366.4 L796.9,1366.34 L797.4,1366.03 L797.9,1365.5 L798.65,1364.36 L800.15,1361.21 L801.65,1357.63 L802.15,1356.19 L803.15,1352.51 L804.15,1348.15 L806.15,1338.85 L807.4,1332.2 L808.9,1322.64 L811.65,1299.84 L812.65,1289.83 L814.9,1263.16 L816.4,1249.19 L818.9,1229.1 L824.65,1185.85 L826.15,1176.42 L827.4,1169.53 L828.15,1166.01 L830.15,1157.66 L831.15,1154.08 L831.9,1151.92 L832.4,1150.79 L834.65,1146.75 L836.15,1144.44 L837.4,1142.97 L838.15,1142.36 L838.65,1142.09 L839.4,1141.9 L839.9,1141.93 L840.4,1142.08 L841.15,1142.51 L841.9,1143.15 L842.65,1143.97 L844.15,1146.1 L845.9,1149.18 L847.15,1152.24 L848.65,1156.82 L851.9,1167.79 L856.15,1183.37 L859.65,1194.23 L864.65,1208.82 L866.65,1214.31 L870.4,1223.58 L871.4,1225.63 L872.4,1227.23 L873.65,1228.63 L874.9,1229.79 L876.15,1230.66 L877.15,1231.14 L878.15,1231.41 L878.9,1231.38 L879.9,1231 L880.9,1230.29 L881.9,1229.35 L883.4,1227.71 L884.15,1226.5 L884.65,1225.21 L885.4,1222.74 L887.3,1215" fill="none" stroke="#e8141c" stroke-width="2.6" stroke-linejoin="round"/>
<rect x="90" y="835.5" width="797.5" height="560.1" fill="none" stroke="#000" stroke-width="2.2"/>
<path d="M446.9,1395.6V1384.6M446.9,835.5V846.5M224.15,1395.6V1390.1M224.15,835.5V841M669.65,1395.6V1390.1M669.65,835.5V841M90,1288.9H101M90,1182.2H101M90,1075.5H101M90,968.8H101M90,862.1H101M90,1342.25H95.5M90,1235.55H95.5M90,1128.85H95.5M90,1022.15H95.5M90,915.45H95.5" stroke="#000" stroke-width="2" fill="none"/>
<path d="M370,1261.4H815" stroke="#000" stroke-width="3.6"/>
<path d="M358.3,1261.4 L382.7,1255 L382.7,1267.8 Z" fill="#000"/>
<path d="M827,1261.4 L802,1255.1 L802,1267.7 Z" fill="#000"/>
<path d="M862,1261.4H887.5" stroke="#000" stroke-width="3.6"/>
<path d="M852,1261.4 L868,1255.1 L868,1267.7 Z" fill="#000"/>
<path d="M90,861.4H176" stroke="#e8141c" stroke-width="2.8"/>
<path d="M90,921.2H176" stroke="#1400d8" stroke-width="2.8"/>
<text x="0" y="0" font-size="37" font-family="'Liberation Serif', serif" transform="translate(186,872.5) scale(1.12,1)">ε</text>
<text x="203.4" y="882.5" font-size="27" text-anchor="start" font-family="'Liberation Sans', sans-serif" >1</text>
<text x="0" y="0" font-size="37" font-family="'Liberation Serif', serif" transform="translate(186,932.5) scale(1.12,1)">ε</text>
<text x="203.4" y="942.5" font-size="27" text-anchor="start" font-family="'Liberation Sans', sans-serif" >2</text>
</svg>
</body></html>
